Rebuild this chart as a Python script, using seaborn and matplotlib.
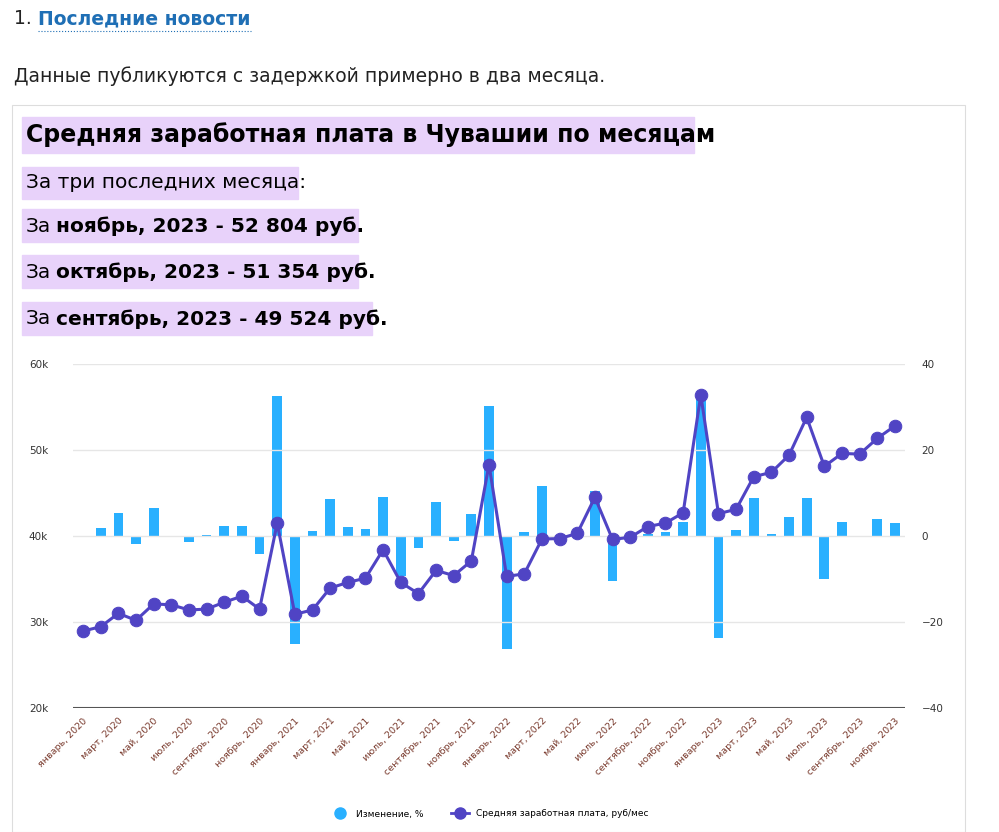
import matplotlib
matplotlib.use("Agg")
import matplotlib.pyplot as plt
import matplotlib.patches as mpatches
import seaborn as sns
import pandas as pd
import numpy as np
from matplotlib.lines import Line2D

months_ru = ["январь","февраль","март","апрель","май","июнь","июль","август","сентябрь","октябрь","ноябрь","декабрь"]
labels = [f"{m}, {y}" for y in range(2020, 2024) for m in months_ru][:47]

salary = [28.95,29.45,31.0,30.2,32.1,32.0,31.4,31.5,32.3,33.0,31.5,41.5,
          30.9,31.4,33.95,34.6,35.1,38.4,34.6,33.3,36.0,35.4,37.1,48.3,
          35.3,35.6,39.65,39.7,40.3,44.5,39.6,39.85,41.1,41.5,42.7,56.4,
          42.6,43.1,46.9,47.4,49.4,53.8,48.1,49.6,49.524,51.354,52.804]
change = [0,1.8,5.3,-1.9,6.4,0,-1.5,0.3,2.4,2.4,-4.3,32.6,
          -25.0,1.2,8.5,2.2,1.6,9.1,-9.3,-2.9,8.0,-1.2,5.1,30.3,
          -26.3,1.0,11.7,0,0,10.5,-10.4,0,0.5,1.0,3.3,32.8,
          -23.7,1.3,8.9,0.5,4.5,8.9,-10.1,3.3,0,3.9,3.0]

df = pd.DataFrame({"idx": np.arange(47), "label": labels,
                   "salary": np.array(salary)*1000, "change": change})

plt.rcParams["font.family"] = "DejaVu Sans"
fig = plt.figure(figsize=(9.99, 8.32), dpi=100)
W, H = 999, 832
def fx(x): return x / W
def fy(y): return 1 - y / H

fig.text(fx(14), fy(19), "1. ", fontsize=13.5, color="#222222", va="center")
fig.text(fx(38), fy(19), "Последние новости", fontsize=13.5, color="#1f6fb5", va="center",
         fontweight="bold")
fig.add_artist(plt.Line2D([fx(38), fx(251)], [fy(31), fy(31)], color="#1f6fb5", lw=0.8, ls=":"))
fig.text(fx(14), fy(76), "Данные публикуются с задержкой примерно в два месяца.", fontsize=13.5,
         color="#222222", va="center")
fig.add_artist(mpatches.Rectangle((fx(12), fy(832)), fx(953), fy(105) - fy(832),
               transform=fig.transFigure, fill=False, ec="#dddddd", lw=0.8))

hl = "#e8d2fa"
def box(x0, x1, y0, y1):
    fig.add_artist(mpatches.Rectangle((fx(x0), fy(y1)), fx(x1 - x0), fy(y0) - fy(y1),
                   transform=fig.transFigure, color=hl, zorder=0))
box(22, 694, 117, 153)
fig.text(fx(26), fy(135), "Средняя заработная плата в Чувашии по месяцам", fontsize=17,
         fontweight="bold", va="center")
box(22, 298, 167, 199)
fig.text(fx(26), fy(183), "За три последних месяца:", fontsize=14.5, va="center")
lines = [(226, 358, "ноябрь, 2023 - 52 804 руб."), (272, 358, "октябрь, 2023 - 51 354 руб."),
         (319, 372, "сентябрь, 2023 - 49 524 руб.")]
for yc, x1, t in lines:
    box(22, x1, yc - 17, yc + 16)
    fig.text(fx(26), fy(yc), "За", fontsize=14.5, va="center")
    fig.text(fx(56), fy(yc), t, fontsize=14.5, fontweight="bold", va="center")

ax = fig.add_axes([fx(73), fy(708), fx(832), fy(364) - fy(708)])
ax2 = ax.twinx()
bar_c = "#29b0ff"
line_c = "#5044c4"
sns.barplot(data=df, x="idx", y="change", ax=ax2, color=bar_c, width=0.55, saturation=1, zorder=1)
sns.lineplot(data=df, x="idx", y="salary", ax=ax, color=line_c, lw=2.2, marker="o",
             markersize=9, markeredgecolor=line_c, zorder=3)
ax.set_zorder(ax2.get_zorder() + 1)
ax.patch.set_visible(False)

ax.set_ylim(20000, 60000)
ax2.set_ylim(-40, 40)
ax.set_yticks([20000, 30000, 40000, 50000, 60000])
ax.set_yticklabels(["20k", "30k", "40k", "50k", "60k"])
ax2.set_yticks([-40, -20, 0, 20, 40])
for a in (ax, ax2):
    a.tick_params(length=0, labelsize=7.5, colors="#333333")
    for s in a.spines.values():
        s.set_visible(False)
    a.set_xlabel(""); a.set_ylabel("")
ax.yaxis.set_tick_params(pad=18)
ax2.yaxis.set_tick_params(pad=12)
for v in [30000, 40000, 50000, 60000]:
    ax.axhline(v, color="#e6e6e6", lw=1, zorder=0)
ax.axhline(20000, color="#555555", lw=1.5)
ax.set_xticks(df["idx"][::2].tolist())
ax.set_xticklabels(df["label"][::2].tolist(), rotation=45, ha="right", rotation_mode="anchor",
                   fontsize=6.8, color="#7a3b2e")
ax.tick_params(axis="x", pad=6)
ax.set_xlim(-0.57, 46.57)
ax2.set_xlim(-0.57, 46.57)

handles = [Line2D([], [], marker="o", ls="", color=bar_c, markersize=8),
           Line2D([], [], marker="o", color=line_c, lw=2, markersize=8)]
fig.legend(handles, ["Изменение, %", "Средняя заработная плата, руб/мес"], loc="center",
           bbox_to_anchor=(fx(490), fy(814)), ncol=2, frameon=False, fontsize=6.5,
           columnspacing=3, handlelength=2)
fig.savefig("out.png", dpi=100)
